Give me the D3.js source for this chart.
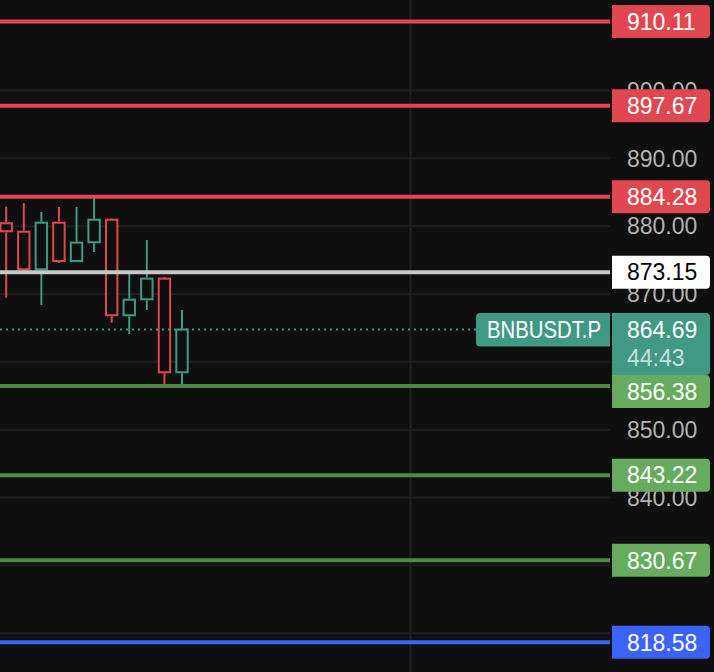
<!DOCTYPE html>
<html><head><meta charset="utf-8">
<script src="https://cdn.jsdelivr.net/npm/d3@7"></script>
<style>html,body{margin:0;padding:0;background:#0f0f0f;}svg{display:block;}</style>
</head><body><div id="chart"></div>
<script>
// ---- data ----
const candleOpen  = [880.35, 879.11, 873.57, 880.44, 874.79, 877.55, 880.88, 866.79, 869.15, 872.19, 858.39];
const candleHigh  = [882.80, 883.34, 882.02, 882.75, 882.75, 884.08, 881.09, 873.17, 877.89, 872.44, 867.57];
const candleLow   = [869.40, 873.07, 868.31, 874.54, 874.74, 876.12, 865.70, 864.03, 867.57, 856.27, 856.66];
const candleClose = [879.17, 873.57, 880.44, 874.79, 877.50, 880.88, 866.79, 869.09, 872.19, 858.39, 864.69];
const levelValues = [910.11, 897.67, 884.28, 873.15, 856.38, 843.22, 830.67, 818.58];
const levelKinds  = ['resistance','resistance','resistance','pivot','support','support','support','target'];
const gridTicks   = [820, 830, 840, 850, 860, 870, 880, 890, 900, 910];
const labelTicks  = [840, 850, 870, 880, 890, 900]; // tick labels not hidden behind price boxes
const timeGridIndex = [23];
const lastPrice = 864.69;
const countdown = '44:43';
const symbol = 'BNBUSDT.P';

// ---- styles ----
const W = 714, H = 672, plotRight = 610, boxX = 612, boxW = 98, textX = 627;
const bg = '#0f0f0f', grid = '#1f1f1f';
const upCol = '#429983', downCol = '#df4850';
const kindStyle = {
  resistance: {line:'#df4850', box:'#df4850', text:'#ffffff'},
  pivot:      {line:'#c8c8c8', box:'#ffffff', text:'#000000'},
  support:    {line:'#4e8a46', box:'#67ab5f', text:'#ffffff'},
  target:     {line:'#3b63f7', box:'#3b63f7', text:'#ffffff'}
};
const font = '"Liberation Sans", Arial, sans-serif';
const fs = 23;

const svg = d3.select('#chart').append('svg').attr('width', W).attr('height', H);
svg.append('rect').attr('width', W).attr('height', H).attr('fill', bg);

const y = d3.scaleLinear().domain([820, 900]).range([632.7, 90]);
const x = d3.scaleLinear().domain([0, 10]).range([6.2, 182]);

// grid
const gGrid = svg.append('g').attr('transform', `translate(${plotRight},0)`)
  .call(d3.axisLeft(y).tickValues(gridTicks).tickSize(plotRight).tickFormat(''));
gGrid.select('.domain').remove();
gGrid.selectAll('line').attr('stroke', grid).attr('stroke-width', 2);
svg.selectAll('.vgrid').data(timeGridIndex).enter().append('line')
  .attr('x1', d => x(d)).attr('x2', d => x(d)).attr('y1', 0).attr('y2', H)
  .attr('stroke', grid).attr('stroke-width', 2);

// axis labels
const gAxis = svg.append('g').attr('transform', `translate(${textX},0)`)
  .call(d3.axisRight(y).tickValues(labelTicks).tickSize(0).tickPadding(0).tickFormat(d3.format('.2f')));
gAxis.select('.domain').remove();
gAxis.selectAll('text').attr('fill', '#b2b2b2').attr('font-size', fs).attr('font-family', font).attr('dy', '0.36em');

// candles
const candles = candleOpen.map((o, i) => ({i, o, h: candleHigh[i], l: candleLow[i], c: candleClose[i]}));
const bodyW = 11.4;
const gC = svg.append('g');
candles.forEach(d => {
  const col = d.c >= d.o ? upCol : downCol;
  const top = Math.max(d.o, d.c), bot = Math.min(d.o, d.c);
  const cx = x(d.i);
  gC.append('line').attr('x1', cx).attr('x2', cx).attr('y1', y(d.h)).attr('y2', y(top) - 1)
    .attr('stroke', col).attr('stroke-width', 2);
  gC.append('line').attr('x1', cx).attr('x2', cx).attr('y1', y(bot) + 1).attr('y2', y(d.l))
    .attr('stroke', col).attr('stroke-width', 2);
  gC.append('rect').attr('x', cx - bodyW / 2).attr('y', y(top)).attr('width', bodyW)
    .attr('height', Math.max(1, y(bot) - y(top))).attr('fill', bg).attr('stroke', col).attr('stroke-width', 2);
});

// level lines
svg.selectAll('.lvl').data(levelValues).enter().append('line')
  .attr('x1', 0).attr('x2', plotRight).attr('y1', d => y(d)).attr('y2', d => y(d))
  .attr('stroke', (d, i) => kindStyle[levelKinds[i]].line).attr('stroke-width', 4);

// last price dotted line
svg.append('line').attr('x1', 0).attr('x2', 476).attr('y1', y(lastPrice)).attr('y2', y(lastPrice))
  .attr('stroke', upCol).attr('stroke-width', 2).attr('stroke-dasharray', '2,4');

// label layout (avoid overlap)
const items = levelValues.map((v, i) => ({v, kind: levelKinds[i], h: 33, top: y(v) - 16.5}));
items.push({v: lastPrice, kind: 'last', h: 62, top: y(lastPrice) - 16.5});
items.sort((a, b) => a.top - b.top);
for (let k = 1; k < items.length; k++) {
  items[k].top = Math.max(items[k].top, items[k - 1].top + items[k - 1].h);
}
function rightRounded(x0, y0, w, h, r) {
  return `M${x0},${y0}H${x0 + w - r}Q${x0 + w},${y0} ${x0 + w},${y0 + r}V${y0 + h - r}Q${x0 + w},${y0 + h} ${x0 + w - r},${y0 + h}H${x0}Z`;
}
function leftRounded(x0, y0, w, h, r) {
  return `M${x0 + w},${y0}H${x0 + r}Q${x0},${y0} ${x0},${y0 + r}V${y0 + h - r}Q${x0},${y0 + h} ${x0 + r},${y0 + h}H${x0 + w}Z`;
}
const gL = svg.append('g');
items.forEach(it => {
  const boxCol = it.kind === 'last' ? upCol : kindStyle[it.kind].box;
  const txtCol = it.kind === 'last' ? '#ffffff' : kindStyle[it.kind].text;
  gL.append('path').attr('d', rightRounded(boxX, it.top, boxW, it.h, 4)).attr('fill', boxCol);
  gL.append('text').attr('x', textX).attr('y', it.top + 16.5).attr('dy', '0.36em')
    .attr('fill', txtCol).attr('font-size', fs).attr('font-family', font).text(d3.format('.2f')(it.v));
  if (it.kind === 'last') {
    gL.append('text').attr('x', textX).attr('y', it.top + 45).attr('dy', '0.36em')
      .attr('fill', '#ffffff').attr('fill-opacity', 0.7).attr('font-size', fs).attr('font-family', font).text(countdown);
    gL.append('path').attr('d', leftRounded(476, it.top, plotRight - 476, 33.5, 4)).attr('fill', upCol);
    gL.append('text').attr('x', 487).attr('y', it.top + 16.5).attr('dy', '0.36em')
      .attr('fill', '#ffffff').attr('font-size', fs).attr('font-family', font)
      .attr('textLength', 114).attr('lengthAdjust', 'spacingAndGlyphs').text(symbol);
  }
});
</script>
</body></html>
